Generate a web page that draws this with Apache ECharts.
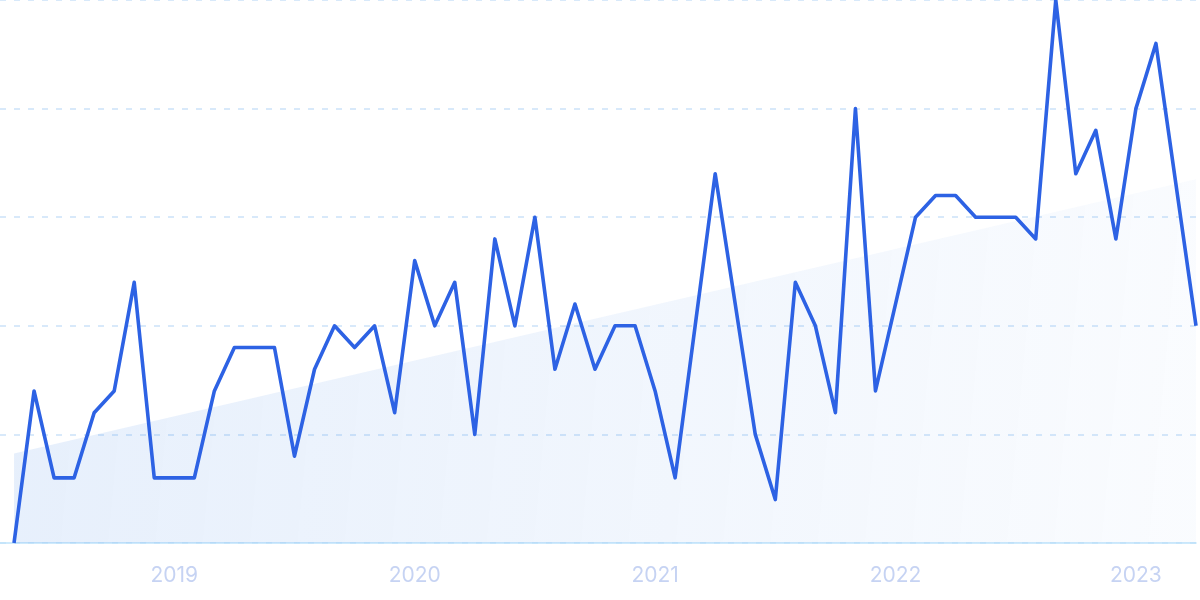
<!DOCTYPE html>
<html>
<head>
<meta charset="utf-8">
<script src="https://cdn.jsdelivr.net/npm/echarts@6/dist/echarts.min.js"></script>
<style>
html,body{margin:0;padding:0;background:#fff;}
#chart{width:1200px;height:600px;}
</style>
</head>
<body>
<div id="chart"></div>
<script>
// Monthly interest, May 2018 .. Apr 2023 (index 0 = May 2018)
var values = [
  0, 28, 12, 12, 24, 28, 48, 12,
  12, 12, 28, 36, 36, 36, 16, 32, 40, 36, 40, 24,
  52, 40, 48, 20, 56, 40, 60, 32, 44, 32, 40, 40,
  28, 12, 40, 68, 44, 20, 8, 48, 40, 24, 80, 28,
  44, 60, 64, 64, 60, 60, 60, 56, 100, 68, 76, 56,
  80, 92, 66, 40
];
// Trend line end points [index, value]
var trendPoints = [[0, 16.5], [59, 67]];
// Year tick labels and the month index of each January
var yearLabels = ['2019', '2020', '2021', '2022', '2023'];
var yearIndex = [8, 20, 32, 44, 56];

var lineData = values.map(function (v, i) { return [i, v]; });

var chart = echarts.init(document.getElementById('chart'));
chart.setOption({
  animation: false,
  grid: { left: 0, right: 4, top: 0, bottom: 57, containLabel: false },
  xAxis: {
    type: 'value',
    min: -0.7,
    max: 59,
    axisLine: { show: true, onZero: false, lineStyle: { color: '#bfe3fb', width: 1.5 } },
    axisTick: { show: false },
    splitLine: { show: false },
    axisLabel: {
      customValues: yearIndex,
      formatter: function (val) {
        var k = yearIndex.indexOf(Math.round(val));
        return k >= 0 ? yearLabels[k] : '';
      },
      color: '#c6d3f3',
      fontSize: 21,
      fontFamily: 'Inter, Roboto, sans-serif',
      margin: 22
    }
  },
  yAxis: {
    type: 'value',
    min: 0,
    max: 100,
    interval: 20,
    axisLine: { show: false },
    axisTick: { show: false },
    axisLabel: { show: false },
    splitLine: { show: true, lineStyle: { color: '#cce2f9', type: [6, 8], width: 1.5 } }
  },
  series: [
    {
      type: 'line',
      data: trendPoints,
      symbol: 'none',
      silent: true,
      lineStyle: { width: 0, opacity: 0 },
      areaStyle: {
        color: new echarts.graphic.LinearGradient(0, 0, 1, 0.3, [
          { offset: 0, color: 'rgba(59,130,230,0.18)' },
          { offset: 1, color: 'rgba(59,130,230,0.04)' }
        ])
      },
      z: 1
    },
    {
      type: 'line',
      data: lineData,
      symbol: 'none',
      clip: false,
      lineStyle: { color: '#2d62e4', width: 3.6, join: 'round' },
      z: 3
    }
  ]
});
</script>
</body>
</html>
